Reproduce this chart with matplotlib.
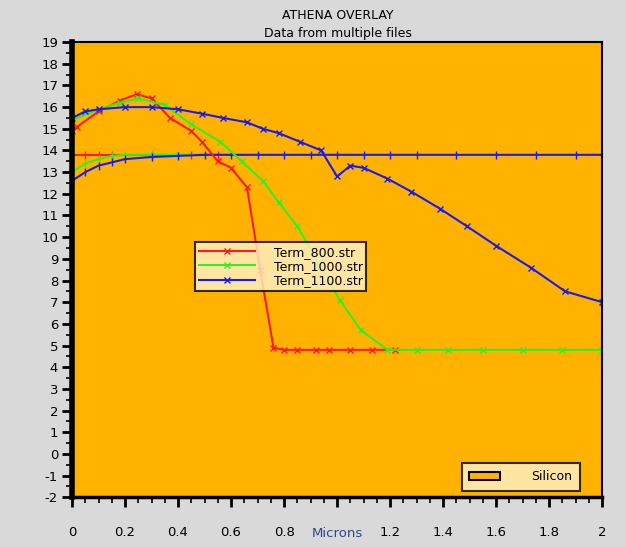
import numpy as np
import matplotlib
matplotlib.use('Agg')
from matplotlib import pyplot as plt
from matplotlib.patches import Patch
from matplotlib.lines import Line2D

plt.rcParams['axes.unicode_minus'] = False

# Term_800.str
red_x = [0.0, 0.02, 0.1, 0.18, 0.245, 0.3, 0.37, 0.45, 0.49, 0.55, 0.6, 0.66, 0.71, 0.76,
         0.8, 0.85, 0.92, 0.97, 1.05, 1.13, 1.22]
red_y = [14.9, 15.1, 15.8, 16.3, 16.6, 16.4, 15.5, 14.9, 14.4, 13.5, 13.2, 12.3, 8.5, 4.9,
         4.8, 4.8, 4.8, 4.8, 4.8, 4.8, 4.8]
red2_x = [0.0, 0.05, 0.1, 0.15, 0.3, 0.45, 0.55]
red2_y = [13.8, 13.8, 13.8, 13.8, 13.8, 13.8, 13.8]

# Term_1000.str
green_x = [0.0, 0.1, 0.18, 0.25, 0.35, 0.45, 0.56, 0.64, 0.72, 0.78, 0.85, 0.93, 1.01,
           1.09, 1.19, 1.3, 1.42, 1.55, 1.7, 1.85, 2.0]
green_y = [15.4, 15.9, 16.2, 16.4, 16.1, 15.2, 14.4, 13.5, 12.6, 11.6, 10.5, 8.8, 7.1,
           5.7, 4.8, 4.8, 4.8, 4.8, 4.8, 4.8, 4.8]
green2_x = [0.0, 0.05, 0.1, 0.15, 0.2, 0.3, 0.4, 0.5, 0.6]
green2_y = [13.0, 13.4, 13.6, 13.75, 13.8, 13.8, 13.8, 13.8, 13.8]

# Term_1100.str
blue_x = [0.0, 0.05, 0.1, 0.2, 0.3, 0.4, 0.49, 0.57, 0.66, 0.72, 0.78, 0.86, 0.94, 1.0,
          1.05, 1.1, 1.19, 1.28, 1.39, 1.49, 1.6, 1.73, 1.86, 2.0]
blue_y = [15.5, 15.8, 15.9, 16.0, 16.0, 15.9, 15.7, 15.5, 15.3, 15.0, 14.8, 14.4, 14.0, 12.8,
          13.3, 13.2, 12.7, 12.1, 11.3, 10.5, 9.6, 8.6, 7.5, 7.0]
blue2_x = [0.0, 0.05, 0.1, 0.15, 0.2, 0.3, 0.4, 0.5, 0.6, 0.7, 0.8, 0.9, 1.0, 1.1, 1.2,
           1.3, 1.45, 1.6, 1.75, 1.9, 2.0]
blue2_y = [12.6, 13.0, 13.3, 13.45, 13.6, 13.7, 13.75, 13.8, 13.8, 13.8, 13.8, 13.8, 13.8,
           13.8, 13.8, 13.8, 13.8, 13.8, 13.8, 13.8, 13.8]

legend_labels = ['Term_800.str', 'Term_1000.str', 'Term_1100.str']
colors = ['#ff1a1a', '#33ee22', '#1a1aee']

fig = plt.figure(figsize=(6.26, 5.47), dpi=100)
fig.patch.set_facecolor('#d9d9d9')
ax = fig.add_axes([0.115, 0.091, 0.847, 0.832])
ax.set_facecolor('#ffb300')

ax.plot(red2_x, red2_y, color=colors[0], lw=1.5, marker='|', ms=6)
ax.plot(green2_x, green2_y, color=colors[1], lw=1.5, marker='|', ms=6)
ax.plot(blue2_x, blue2_y, color=colors[2], lw=1.5, marker='|', ms=6)
ax.plot(red_x, red_y, color=colors[0], lw=1.5, marker='x', ms=4)
ax.plot(green_x, green_y, color=colors[1], lw=1.5, marker='x', ms=4)
ax.plot(blue_x, blue_y, color=colors[2], lw=1.5, marker='x', ms=4)

ax.set_xlim(0, 2)
ax.set_ylim(-2, 19)
ax.set_xticks(np.arange(0, 2.01, 0.2))
ax.set_xticklabels(['0', '0.2', '0.4', '0.6', '0.8', '', '1.2', '1.4', '1.6', '1.8', '2'])
ax.set_xticks(np.arange(0, 2.01, 0.05), minor=True)
ax.set_yticks(np.arange(-2, 20, 1))
ax.set_yticks(np.arange(-2, 19.01, 0.5), minor=True)
ax.tick_params(which='major', direction='out', length=7, width=2, labelsize=9.5, pad=14)
ax.tick_params(which='minor', direction='out', length=4, width=1.2)
ax.tick_params(axis='y', pad=3)
for s in ax.spines.values():
    s.set_linewidth(1.5)
ax.spines['left'].set_linewidth(4)
ax.spines['bottom'].set_linewidth(2.5)
ax.text(0.5, -0.065, 'Microns', transform=ax.transAxes, ha='center', va='top',
        fontsize=9.5, color='#334488')

fig.text(0.54, 0.965, 'ATHENA OVERLAY', ha='center', fontsize=9)
fig.text(0.54, 0.932, 'Data from multiple files', ha='center', fontsize=9)

handles = [Line2D([], [], color=c, lw=1.5, marker='x', ms=4) for c in colors]
leg1 = ax.legend(handles, legend_labels, loc='upper left', bbox_to_anchor=(0.22, 0.575),
                 fontsize=9, frameon=True, fancybox=False, handlelength=4.5,
                 labelspacing=0.1, borderpad=0.3, handletextpad=1.5)
leg1.get_frame().set_facecolor('#fff2cc')
leg1.get_frame().set_edgecolor('black')
leg1.get_frame().set_linewidth(1.5)
ax.add_artist(leg1)

leg2 = ax.legend([Patch(facecolor='#ffb300', edgecolor='black', lw=1.5)], ['Silicon'],
                 loc='lower right', bbox_to_anchor=(0.97, 0.0), fontsize=9,
                 fancybox=False, handlelength=2.5, borderpad=0.6, handletextpad=2.5)
leg2.get_frame().set_facecolor('#fff2cc')
leg2.get_frame().set_edgecolor('black')
leg2.get_frame().set_linewidth(1.5)

fig.savefig('out.png', dpi=100, facecolor=fig.get_facecolor())
